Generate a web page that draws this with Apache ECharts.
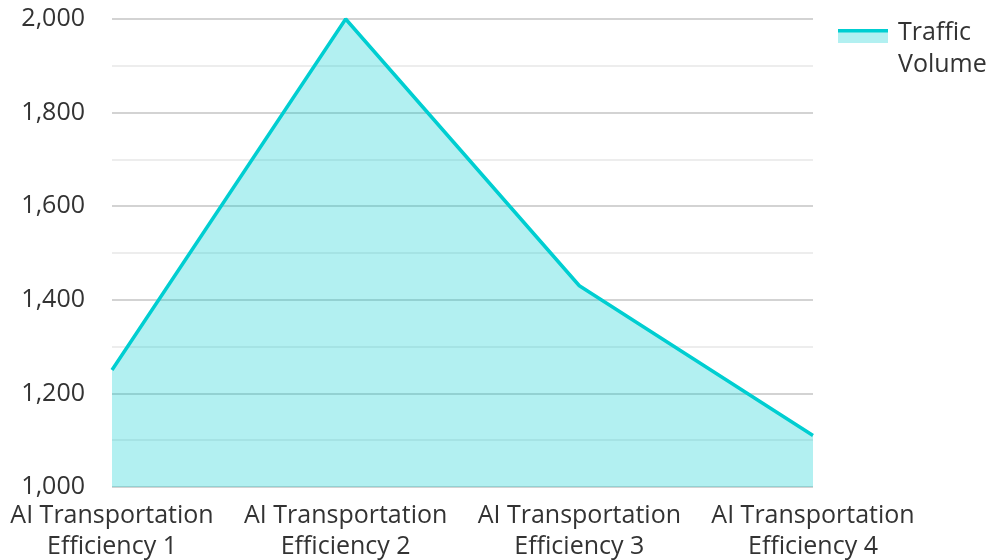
<!DOCTYPE html>
<html><head><meta charset="utf-8">
<script src="https://cdn.jsdelivr.net/npm/echarts@6/dist/echarts.min.js"></script>
<style>html,body{margin:0;padding:0;background:#fff}#c{width:987px;height:560px}</style>
</head><body><div id="c"></div>
<script>
const categories = ['AI Transportation\nEfficiency 1','AI Transportation\nEfficiency 2','AI Transportation\nEfficiency 3','AI Transportation\nEfficiency 4'];
const seriesName = 'Traffic Volume';
const trafficVolume = [1250, 2000, 1430, 1110];
const yMin = 1000, yMax = 2000, yInterval = 200;

const chart = echarts.init(document.getElementById('c'));
const font = '"Open Sans", "Noto Sans", sans-serif';
const lineColor = '#00CED1';
chart.setOption({
  animation: false,
  textStyle: { fontFamily: font },
  grid: { left: 112, right: 174, top: 19, bottom: 73, containLabel: false, outerBoundsMode: 'none' },
  legend: {
    left: 838, top: 12, orient: 'vertical',
    itemWidth: 50, itemHeight: 14, itemGap: 10,
    icon: 'rect',
    itemStyle: { color: 'rgba(0,0,0,0)', borderWidth: 0 },
    lineStyle: { width: 0 },
    textStyle: { fontSize: 25, color: '#333', fontFamily: font, width: 95, overflow: 'break', lineHeight: 32 },
    data: [seriesName]
  },
  graphic: [
    { type: 'rect', shape: { x: 838, y: 32, width: 50, height: 11 }, style: { fill: lineColor, opacity: 0.3 } },
    { type: 'rect', shape: { x: 838, y: 29, width: 50, height: 3.5 }, style: { fill: lineColor } }
  ],
  xAxis: {
    type: 'category', data: categories, boundaryGap: false,
    axisLine: { show: false }, axisTick: { show: false },
    axisLabel: { fontSize: 25, color: '#333', margin: 13, lineHeight: 31, interval: 0, fontFamily: font }
  },
  yAxis: {
    type: 'value', min: yMin, max: yMax, interval: yInterval,
    axisLine: { show: false }, axisTick: { show: false },
    axisLabel: { fontSize: 25, color: '#333', margin: 27, fontFamily: font,
      formatter: v => v.toLocaleString('en-US') },
    splitLine: { show: true, lineStyle: { color: '#c4c4c4', width: 1.5 } },
    minorTick: { show: false, splitNumber: 2 },
    minorSplitLine: { show: true, lineStyle: { color: '#e8e8e8', width: 1.5 } }
  },
  series: [{
    name: seriesName, type: 'line', data: trafficVolume,
    symbol: 'none', lineStyle: { color: lineColor, width: 3.5 },
    itemStyle: { color: lineColor },
    areaStyle: { color: lineColor, opacity: 0.3 }
  }]
});
</script></body></html>
